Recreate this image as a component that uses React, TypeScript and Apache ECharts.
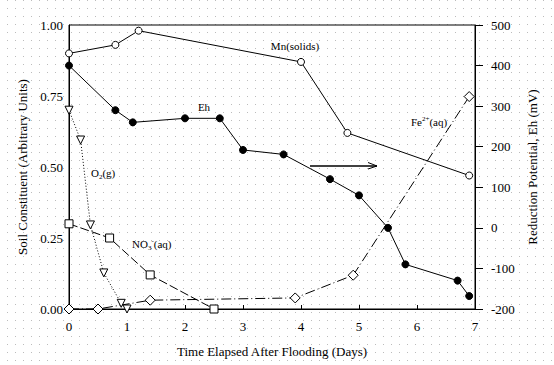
import React, { useEffect, useRef } from "react";
import * as echarts from "echarts";

const days = {
  mn: [0, 0.8, 1.2, 4.0, 4.8, 6.9],
  eh: [0, 0.8, 1.1, 2.0, 2.6, 3.0, 3.7, 4.5, 5.0, 5.5, 5.8, 6.7, 6.9],
  o2: [0, 0.2, 0.37, 0.6, 0.9, 1.0],
  no3: [0, 0.7, 1.4, 2.5],
  fe: [0, 0.5, 1.4, 3.9, 4.9, 6.9],
};
const mnValues = [0.9, 0.93, 0.98, 0.87, 0.62, 0.47];
const ehValues = [400, 290, 260, 270, 270, 192, 181, 120, 80, 0, -90, -130, -168];
const o2Values = [0.7, 0.595, 0.296, 0.127, 0.02, 0.0];
const no3Values = [0.3, 0.25, 0.12, 0.0];
const feValues = [0, 0, 0.031, 0.039, 0.119, 0.748];
const leftTicks = [0, 0.25, 0.5, 0.75, 1.0];
const rightTicks = [-200, -100, 0, 100, 200, 300, 400, 500];

const FONT = "'Liberation Serif', 'Times New Roman', 'DejaVu Serif', serif";
const zip = (xs: number[], ys: number[]) => xs.map((x, i) => [x, ys[i]]);

const dotBg =
  "url(\"data:image/svg+xml,%3Csvg xmlns='http://www.w3.org/2000/svg' width='8' height='8'%3E%3Crect x='7' y='0' width='1' height='1' fill='%23bcbcbc'/%3E%3C/svg%3E\")";

export default function App() {
  const ref = useRef<HTMLDivElement>(null);
  useEffect(() => {
    if (!ref.current) return;
    const chart = echarts.init(ref.current, undefined, { renderer: "svg" });
    const open = { color: "#fff", borderColor: "#000", borderWidth: 1 };
    const txt = { fontFamily: FONT, fontSize: 11, fill: "#000" };
    const rich = {
      n: { fontFamily: FONT, fontSize: 11, lineHeight: 14, color: "#000" },
      sub: { fontFamily: FONT, fontSize: 7, lineHeight: 8, color: "#000", verticalAlign: "bottom" },
      sup: { fontFamily: FONT, fontSize: 7, lineHeight: 8, color: "#000", verticalAlign: "top" },
    };
    chart.setOption({
      animation: false,
      textStyle: { fontFamily: FONT },
      grid: { left: 69, right: 79, top: 25, bottom: 56, show: true, borderColor: "#000", borderWidth: 1 },
      xAxis: {
        type: "value", min: 0, max: 7, interval: 1,
        axisLine: { lineStyle: { color: "#000", width: 1 } },
        axisTick: { show: true, inside: true, length: 4, lineStyle: { color: "#000" } },
        splitLine: { show: false },
        axisLabel: { color: "#000", fontFamily: FONT, fontSize: 13, margin: 11 },
        name: "Time Elapsed After Flooding (Days)",
        nameLocation: "middle", nameGap: 36,
        nameTextStyle: { color: "#000", fontFamily: FONT, fontSize: 13 },
      },
      yAxis: [
        {
          type: "value", min: leftTicks[0], max: leftTicks[leftTicks.length - 1], interval: 0.25,
          axisLine: { show: true, lineStyle: { color: "#000" } },
          axisTick: { show: false },
          splitLine: { show: false },
          axisLabel: { color: "#000", fontFamily: FONT, fontSize: 13, margin: 6, formatter: (v: number) => v.toFixed(2) },
          name: "Soil Constituent (Arbitrary Units)",
          nameLocation: "middle", nameGap: 40, nameRotate: 90,
          nameTextStyle: { color: "#000", fontFamily: FONT, fontSize: 13 },
        },
        {
          type: "value", position: "right", min: rightTicks[0], max: rightTicks[rightTicks.length - 1], interval: 100,
          axisLine: { show: true, lineStyle: { color: "#000" } },
          axisTick: { show: true, inside: false, length: 8, lineStyle: { color: "#000" } },
          splitLine: { show: false },
          axisLabel: { color: "#000", fontFamily: FONT, fontSize: 13, margin: 16 },
          name: "Reduction Potential, Eh (mV)",
          nameLocation: "middle", nameGap: 46, nameRotate: 90,
          nameTextStyle: { color: "#000", fontFamily: FONT, fontSize: 13 },
        },
      ],
      series: [
        {
          name: "Mn", type: "line", data: zip(days.mn, mnValues), symbol: "circle", symbolSize: 7,
          lineStyle: { color: "#000", width: 1 }, itemStyle: open, z: 3,
        },
        {
          name: "Eh", type: "line", yAxisIndex: 1, data: zip(days.eh, ehValues), symbol: "circle", symbolSize: 7,
          lineStyle: { color: "#000", width: 1 }, itemStyle: { color: "#000", borderColor: "#000" }, z: 3,
        },
        {
          name: "O2", type: "line", data: zip(days.o2, o2Values), symbol: "triangle", symbolRotate: 180, symbolSize: 8,
          lineStyle: { color: "#000", width: 1, type: [1, 2] }, itemStyle: open, z: 3,
        },
        {
          name: "NO3", type: "line", data: zip(days.no3, no3Values), symbol: "rect", symbolSize: 8,
          lineStyle: { color: "#000", width: 1, type: [9, 3] }, itemStyle: open, z: 3,
        },
        {
          name: "Fe", type: "line", data: zip(days.fe, feValues), symbol: "diamond", symbolSize: 10,
          lineStyle: { color: "#000", width: 1, type: [10, 3, 1, 3] }, itemStyle: open, z: 3,
        },
      ],
      graphic: [
        { type: "text", x: 295, y: 46, style: { ...txt, text: "Mn(solids)", align: "center", verticalAlign: "middle" } },
        { type: "text", x: 204, y: 107, style: { ...txt, text: "Eh", align: "center", verticalAlign: "middle" } },
        { type: "text", x: 411, y: 122, style: { text: "{n|Fe}{sup|2+}{n|(aq)}", rich, align: "left", verticalAlign: "middle" } },
        { type: "text", x: 91, y: 173, style: { text: "{n|O}{sub|2}{n|(g)}", rich, align: "left", verticalAlign: "middle" } },
        { type: "text", x: 132, y: 244, style: { text: "{n|NO}{sub|3}{sup|-}{n|(aq)}", rich, align: "left", verticalAlign: "middle" } },
        { type: "polyline", shape: { points: [[310, 166], [377, 166]] }, style: { stroke: "#000", lineWidth: 1.5, fill: null } },
        { type: "polyline", shape: { points: [[368, 162.5], [377, 166], [368, 169]] }, style: { stroke: "#000", lineWidth: 1, fill: null } },
      ],
    });
    return () => chart.dispose();
  }, []);
  return (
    <div style={{ position: "absolute", left: 0, top: 0, width: 554, height: 365, backgroundColor: "#fff", backgroundImage: dotBg }}>
      <div ref={ref} style={{ width: 554, height: 365 }} />
    </div>
  );
}
